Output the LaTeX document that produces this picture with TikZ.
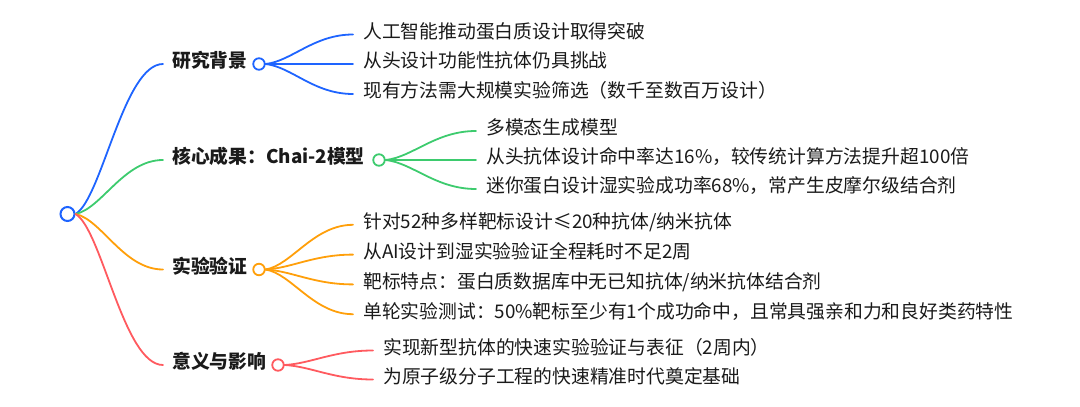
\documentclass[tikz,border=0pt]{standalone}
\usepackage{fontspec}
\setmainfont{Noto Sans CJK SC}
\usetikzlibrary{calc}
\definecolor{cblue}{HTML}{1E64FF}
\definecolor{cgreen}{HTML}{3DCB6E}
\definecolor{corange}{HTML}{FF9F0A}
\definecolor{cred}{HTML}{FF5A5F}
\definecolor{txt}{HTML}{1A1A1A}
\tikzset{
  lbl/.style={anchor=west, font=\fontsize{18.8pt}{22pt}\selectfont\bfseries, text=txt,
    inner xsep=9pt, inner ysep=0pt, text height=0.88em, text depth=0.12em},
  leaf/.style={anchor=west, font=\fontsize{18.8pt}{22pt}\selectfont, text=txt,
    inner xsep=10pt, inner ysep=0pt, text height=0.88em, text depth=0.12em},
  hub/.style={circle, draw, fill=white, line width=1.8pt, minimum size=11.5pt, inner sep=0pt},
  rootc/.style={circle, draw=cblue, fill=white, line width=2pt, minimum size=14pt, inner sep=0pt},
  link/.style={line width=1.8pt, line cap=round},
  curv/.style={to path={let \p1=(\tikztostart), \p2=(\tikztotarget) in
    .. controls (\x1+0.3*\x2-0.3*\x1, \y1+0.1*\y2-0.1*\y1) and (\x1+0.55*\x2-0.55*\x1, \y2) .. (\tikztotarget)}}
}
\begin{document}
\begin{tikzpicture}[x=1pt,y=-1pt]
\useasboundingbox (0,0) rectangle (1080,407);
% root
\node[rootc] (root) at (67.5,214) {};
% branch labels
\node[lbl] (b1) at (163,64) {研究背景};
\node[lbl] (b2) at (163,160) {核心成果：Chai-2模型};
\node[lbl] (b3) at (163,269.5) {实验验证};
\node[lbl] (b4) at (163,365) {意义与影响};
% hubs
\node[hub, draw=cblue] (h1) at (259,64) {};
\node[hub, draw=cgreen] (h2) at (379,160) {};
\node[hub, draw=corange] (h3) at (259,269.5) {};
\node[hub, draw=cred] (h4) at (278,365) {};
% leaves
\node[leaf] (l11) at (353,34.5) {人工智能推动蛋白质设计取得突破};
\node[leaf] (l12) at (353,64) {从头设计功能性抗体仍具挑战};
\node[leaf] (l13) at (353,94) {现有方法需大规模实验筛选（数千至数百万设计）};
\node[leaf] (l21) at (476,131) {多模态生成模型};
\node[leaf] (l22) at (476,160) {从头抗体设计命中率达16\%，较传统计算方法提升超100倍};
\node[leaf] (l23) at (476,189) {迷你蛋白设计湿实验成功率68\%，常产生皮摩尔级结合剂};
\node[leaf] (l31) at (353,224.8) {针对52种多样靶标设计≤20种抗体/纳米抗体};
\node[leaf] (l32) at (353,254.6) {从AI设计到湿实验验证全程耗时不足2周};
\node[leaf] (l33) at (353,284.4) {靶标特点：蛋白质数据库中无已知抗体/纳米抗体结合剂};
\node[leaf] (l34) at (353,314.2) {单轮实验测试：50\%靶标至少有1个成功命中，且常具强亲和力和良好类药特性};
\node[leaf] (l41) at (373,350.5) {实现新型抗体的快速实验验证与表征（2周内）};
\node[leaf] (l42) at (373,379.5) {为原子级分子工程的快速精准时代奠定基础};
% root connectors
\draw[link, cblue] (root.east) to[curv] (b1.west);
\draw[link, cgreen] (root.east) to[curv] (b2.west);
\draw[link, corange] (root.east) to[curv] (b3.west);
\draw[link, cred] (root.east) to[curv] (b4.west);
% leaf connectors
\draw[link, cblue] (h1.east) to[curv] (l11.west);
\draw[link, cblue] (h1.east) to[curv] (l12.west);
\draw[link, cblue] (h1.east) to[curv] (l13.west);
\draw[link, cgreen] (h2.east) to[curv] (l21.west);
\draw[link, cgreen] (h2.east) to[curv] (l22.west);
\draw[link, cgreen] (h2.east) to[curv] (l23.west);
\draw[link, corange] (h3.east) to[curv] (l31.west);
\draw[link, corange] (h3.east) to[curv] (l32.west);
\draw[link, corange] (h3.east) to[curv] (l33.west);
\draw[link, corange] (h3.east) to[curv] (l34.west);
\draw[link, cred] (h4.east) to[curv] (l41.west);
\draw[link, cred] (h4.east) to[curv] (l42.west);
\end{tikzpicture}
\end{document}
